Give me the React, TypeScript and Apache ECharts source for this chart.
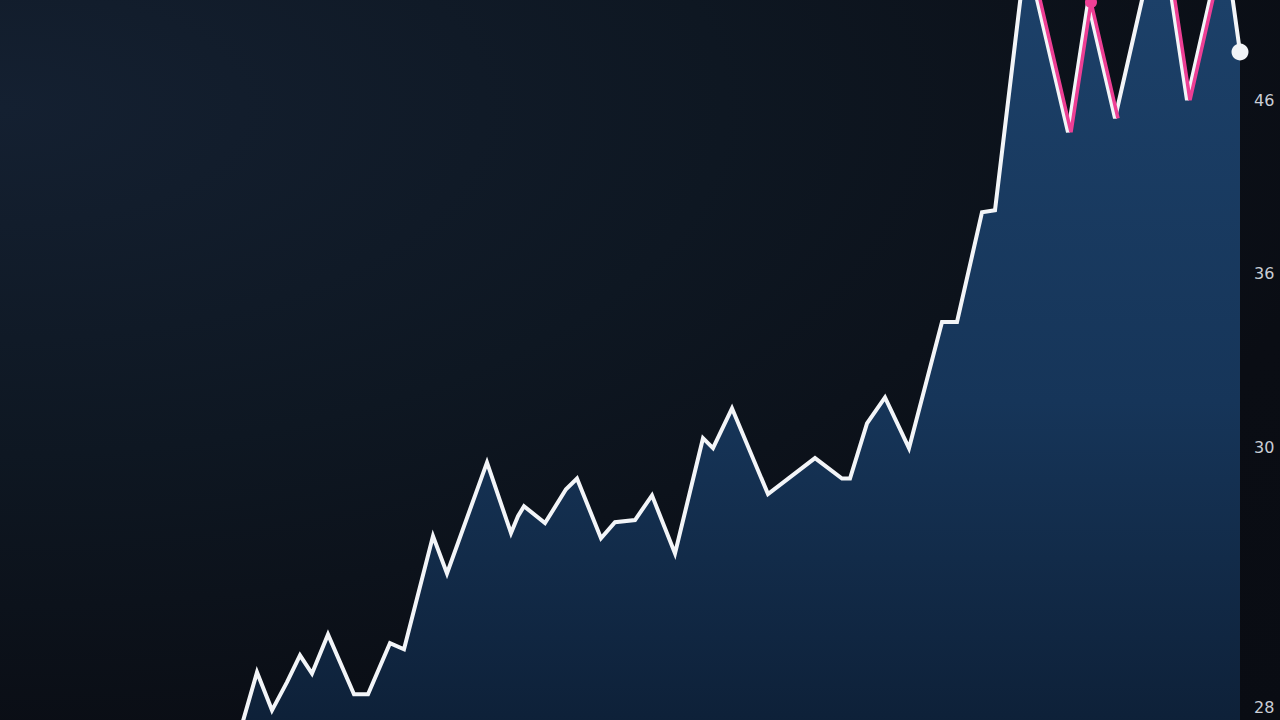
import React, { useEffect, useRef } from "react";
import * as echarts from "echarts";

// Trading day index (x) and price level (y) for the main series
const days: number[] = [
  0.4, 2.5, 4.0, 5.5, 6.8, 8.0, 9.6, 12.2, 13.6, 15.8, 17.2, 20.1, 21.5, 25.5,
  27.9, 28.6, 29.2, 31.3, 33.4, 34.5, 36.9, 38.3, 40.3, 42.0, 44.3, 47.1, 48.1,
  50.0, 53.6, 58.3, 61.0, 61.8, 63.5, 65.3, 67.7, 71.0, 72.5, 75.0, 76.3, 79.4,
  83.6, 85.6, 88.3, 92.8, 95.5, 99.2, 100.8,
];
const prices: number[] = [
  27.12, 28.81, 27.93, 28.58, 29.2, 28.78, 29.68, 28.3, 28.3, 29.48, 29.34,
  31.95, 31.09, 33.65, 32.02, 32.41, 32.64, 32.25, 33.03, 33.28, 31.9, 32.27,
  32.32, 32.89, 31.55, 34.21, 33.98, 34.9, 32.92, 33.75, 33.28, 33.28, 34.55,
  35.15, 33.98, 36.89, 36.89, 39.42, 39.47, 45.42, 41.27, 44.27, 41.59, 46.14,
  42.01, 45.77, 43.12,
];

// Highlight series (pink) over the volatile top segment
const signalDays: (number | null)[] = [79.7, 83.9, 85.9, 88.6, null, 93.1, 95.8, 99.5];
const signalPrices: (number | null)[] = [45.42, 41.27, 44.27, 41.59, null, 46.14, 42.01, 45.77];
const signalPeakIndex = 2;

// Right axis tick values and their printed labels
const tickValues: number[] = [28, 34, 38, 42];
const tickLabels: string[] = ["28", "30", "36", "46"];

export default function App() {
  const ref = useRef<HTMLDivElement>(null);

  useEffect(() => {
    if (!ref.current) return;
    const chart = echarts.init(ref.current, null, { renderer: "svg" });

    const mainData = days.map((d, i) => {
      const item: any = { value: [d, prices[i]] };
      if (i === days.length - 1) {
        item.symbol = "circle";
        item.symbolSize = 17;
        item.itemStyle = { color: "#f2f4f7", borderWidth: 0 };
      }
      return item;
    });

    const signalData = signalDays.map((d, i) => {
      if (d === null || signalPrices[i] === null) return { value: [null, null] } as any;
      const item: any = { value: [d, signalPrices[i]] };
      if (i === signalPeakIndex) {
        item.symbol = "circle";
        item.symbolSize = 12;
        item.itemStyle = { color: "#ee3f95", borderWidth: 0 };
      }
      return item;
    });

    chart.setOption({
      animation: false,
      backgroundColor: "transparent",
      grid: { left: 232, width: 1010, top: 0, bottom: 0 },
      xAxis: {
        type: "value",
        min: 0,
        max: 101,
        show: false,
      },
      yAxis: {
        type: "value",
        position: "right",
        min: 26,
        max: 44.32,
        interval: 2,
        axisLine: { show: false },
        axisTick: { show: false },
        splitLine: { show: false },
        axisLabel: {
          margin: 12,
          color: "#c9ced6",
          fontSize: 16,
          fontFamily: "DejaVu Sans",
          showMaxLabel: false,
          formatter: (v: number) => {
            const idx = tickValues.findIndex((t) => Math.abs(t - v) < 1e-6);
            return idx >= 0 ? tickLabels[idx] : "";
          },
        },
      },
      series: [
        {
          type: "line",
          data: mainData,
          symbol: "none",
          showSymbol: true,
          lineStyle: { color: "#f3f5f8", width: 4, join: "miter" },
          itemStyle: { color: "#f3f5f8" },
          areaStyle: {
            color: new echarts.graphic.LinearGradient(0, 0, 0, 1, [
              { offset: 0, color: "#1d426b" },
              { offset: 0.55, color: "#163559" },
              { offset: 1, color: "#0c1c31" },
            ]),
            opacity: 1,
          },
          z: 2,
        },
        {
          type: "line",
          data: signalData,
          symbol: "none",
          connectNulls: false,
          lineStyle: { color: "#ee3f95", width: 3.5 },
          itemStyle: { color: "#ee3f95" },
          z: 3,
        },
      ],
    });

    return () => chart.dispose();
  }, []);

  return (
    <div
      style={{
        position: "absolute",
        left: 0,
        top: 0,
        width: 1280,
        height: 720,
        overflow: "hidden",
        background:
          "radial-gradient(ellipse at 0% 15%, #142031 0%, #0e1722 40%, #0a0d14 75%, #090c13 100%)",
      }}
    >
      <div ref={ref} style={{ width: 1280, height: 794 }} />
    </div>
  );
}
